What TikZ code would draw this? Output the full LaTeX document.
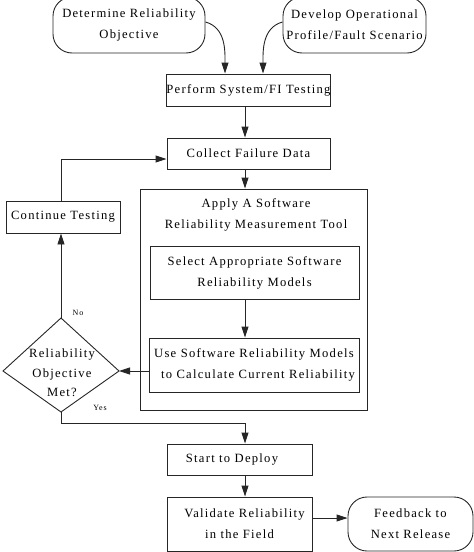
\documentclass[tikz,border=0pt]{standalone}
\usepackage{fontspec}
\setmainfont[LetterSpace=10]{Liberation Serif}
\usetikzlibrary{arrows.meta,calc}
\begin{document}
\begin{tikzpicture}[x=1pt,y=-1pt,
  font=\fontsize{12.6}{21}\selectfont,
  ln/.style={draw=black!85, line width=0.9pt},
  arr/.style={ln, -{Triangle[length=11pt,width=7pt]}},
  box/.style={ln, rectangle, align=center, inner sep=0pt},
  rbox/.style={ln, rectangle, rounded corners=19pt, align=center, inner sep=0pt},
  lab/.style={font=\fontsize{8}{9}\selectfont, inner sep=0pt}]
\useasboundingbox (0,0) rectangle (474,552);
% top rounded boxes
\node[rbox, minimum width=152pt, minimum height=56pt] (det) at (129,25) {Determine Reliability\\Objective};
\node[rbox, minimum width=143pt, minimum height=56pt] (dev) at (354.5,25) {Develop Operational\\Profile/Fault Scenario};
% main column
\coordinate (axis) at (245,0);
\node[box, minimum width=163pt, minimum height=32pt] (perf) at (248.5,90) {Perform System/FI Testing};
\node[box, minimum width=163pt, minimum height=31pt] (coll) at (248.5,153.5) {Collect Failure Data};
\node[box, minimum width=227pt, minimum height=221pt] (tool) at (253.5,299.5) {};
\node[inner sep=0pt, align=center] (tooltitle) at (256,214.5) {Apply A Software\\Reliability Measurement Tool};
\node[box, minimum width=209pt, minimum height=53pt] (sel) at (254.5,272.5) {Select Appropriate Software\\Reliability Models};
\node[box, minimum width=210pt, minimum height=54pt] (use) at (254,365) {Use Software Reliability Models\\\hspace*{8pt}to Calculate Current Reliability};
\node[box, minimum width=114pt, minimum height=32pt] (cont) at (63,217) {Continue Testing};
\node[box, minimum width=145pt, minimum height=31pt] (dep) at (239.5,459.5) {Start to Deploy\hspace*{15pt}};
\node[box, minimum width=145pt, minimum height=54pt] (val) at (239.5,524) {\hspace*{10pt}Validate Reliability\\in the Field};
\node[rbox, minimum width=125pt, minimum height=54pt] (feed) at (410.5,524) {Feedback to\\Next Release};
% decision diamond
\coordinate (dt) at (61,318);
\coordinate (dr) at (119,371);
\coordinate (db) at (61,412);
\coordinate (dl) at (3,371);
\draw[ln] (dt) -- (dr) -- (db) -- (dl) -- cycle;
\node[inner sep=0pt, align=center, font=\fontsize{12.6}{19.5}\selectfont] (dtext) at (62,373) {Reliability\\Objective\\Met?};
\node[lab] (no) at (78,313) {No};
\node[lab] (yes) at (100,408) {Yes};
% connectors
\draw[arr] (det.east) ++(0,-3) to[out=-15,in=90] ($(perf.north)+(-23.5,0)$);
\draw[arr] (dev.west) ++(0,-3) to[out=195,in=90] ($(perf.north)+(14.5,0)$);
\draw[arr] (perf.south -| axis) -- (coll.north -| axis);
\draw[arr] (coll.south -| axis) -- (tool.north -| axis);
\draw[arr] (sel.south -| axis) -- (use.north -| axis);
\draw[arr] (use.west |- dr) -- (dr);
\draw[arr] (dt) -- (cont.south -| dt);
\coordinate (loop) at (61,159);
\draw[arr] (cont.north -| dt) -- (loop) -- (loop -| coll.west);
\coordinate (yb) at (61,423);
\draw[arr] (db) -- (yb) -- (yb -| axis) -- (dep.north -| axis);
\draw[arr] (dep.south -| axis) -- (val.north -| axis);
\draw[arr] (val.east |- 0,518) -- (feed.west |- 0,518);
\end{tikzpicture}
\end{document}
